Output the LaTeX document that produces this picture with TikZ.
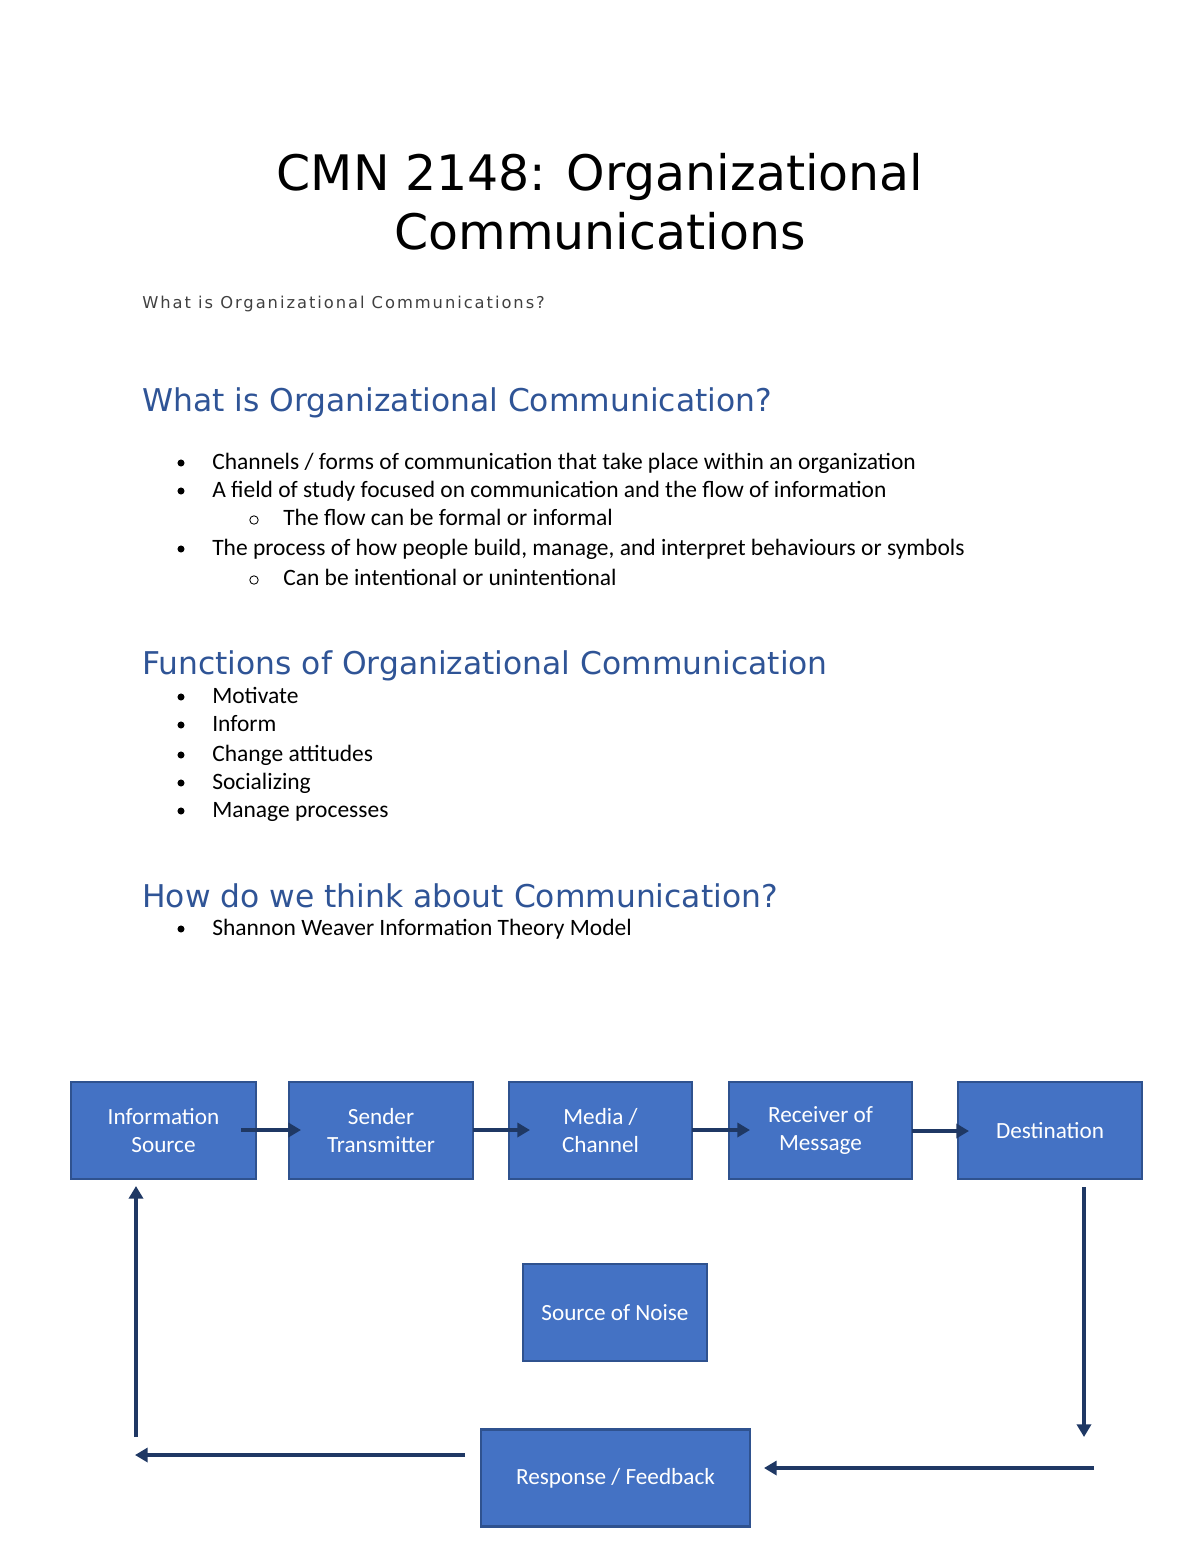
\documentclass[tikz,border=0pt]{standalone}
\usepackage{fontspec}
\setmainfont{Carlito}
\newfontfamily\dejavu{DejaVu Sans}
\newfontfamily\dejavusp[LetterSpace=12]{DejaVu Sans}
\usetikzlibrary{arrows.meta}
\definecolor{boxblue}{HTML}{4472C4}
\definecolor{boxedge}{HTML}{2F528F}
\definecolor{navy}{HTML}{1F3864}
\definecolor{headblue}{HTML}{2F5496}
\begin{document}
\begin{tikzpicture}[x=0.025cm,y=-0.025cm,
  conn/.style={draw=navy,line width=2.8pt,-{Triangle[length=9pt,width=10pt]}},
  head/.style={anchor=base west,text=headblue,font=\dejavu\fontsize{22.3}{26}\selectfont,inner sep=0pt},
  body/.style={anchor=base west,font=\fontsize{16.7}{20}\selectfont,inner sep=0pt},
  bul/.style={fill=black,circle,inner sep=0pt,minimum size=5pt},
  sub/.style={draw=black,circle,inner sep=0pt,minimum size=6pt,line width=0.6pt},
  bx/.style={draw=boxedge,line width=1.5pt,fill=boxblue,text=white,font=\fontsize{16.5}{20.5}\selectfont,align=center,inner sep=0pt,minimum width=#1*0.025cm,minimum height=97*0.025cm}]
\useasboundingbox (0,0) rectangle (1200,1553);
\node[font=\dejavu\fontsize{34.8}{42}\selectfont,align=center] (title) at (600,202) {CMN 2148: Organizational\\Communications};
\node[anchor=base west,inner sep=0pt,text=black!75,font=\dejavusp\fontsize{11.6}{13}\selectfont] (subt) at (142,308) {What is Organizational Communications?};
\node[head] (h1) at (142,411) {What is Organizational Communication?};
\node[head] (h2) at (142,674) {Functions of Organizational Communication};
\node[head] (h3) at (142,907) {How do we think about Communication?};
\foreach \y/\t in {469/{Channels / forms of communication that take place within an organization},497/{A field of study focused on communication and the flow of information},555/{The process of how people build, manage, and interpret behaviours or symbols},703/{Motivate},731/{Inform},761/{Change attitudes},789/{Socializing},817/{Manage processes},935/{Shannon Weaver Information Theory Model}}{
  \node[bul] at (181,\y-6) {};
  \node[body] at (212,\y) {\t};}
\foreach \y/\t in {525/{The flow can be formal or informal},585/{Can be intentional or unintentional}}{
  \node[sub] at (254,\y-5) {};
  \node[body] at (283,\y) {\t};}
\node[bx=185] (is) at (163.5,1130.5) {Information\\Source};
\node[bx=184] (st) at (381,1130.5) {Sender\\Transmitter};
\node[bx=183] (mc) at (600.5,1130.5) {Media /\\Channel};
\node[bx=183] (rm) at (820.5,1130.5) {Receiver of\\Message};
\node[bx=184] (de) at (1050,1130.5) {Destination};
\node[bx=184] (sn) at (615,1312.5) {Source of Noise};
\node[bx=269] (rf) at (615.5,1478) {Response / Feedback};
\coordinate (a1) at (241,1130); \coordinate (b1) at (301,1130);
\coordinate (a2) at (473,1130); \coordinate (b2) at (530,1130);
\coordinate (a3) at (692,1130); \coordinate (b3) at (750,1130);
\coordinate (a4) at (912,1131); \coordinate (b4) at (969,1131);
\draw[conn] (a1) -- (b1);
\draw[conn] (a2) -- (b2);
\draw[conn] (a3) -- (b3);
\draw[conn] (a4) -- (b4);
\coordinate (d1) at (1084,1187); \coordinate (d2) at (1084,1437);
\draw[conn] (d1) -- (d2);
\coordinate (e1) at (1094,1468); \coordinate (e2) at (764,1468);
\draw[conn] (e1) -- (e2);
\coordinate (f1) at (465,1455); \coordinate (f2) at (135,1455);
\draw[conn] (f1) -- (f2);
\coordinate (g1) at (136,1437); \coordinate (g2) at (136,1186);
\draw[conn] (g1) -- (g2);
\end{tikzpicture}
\end{document}
